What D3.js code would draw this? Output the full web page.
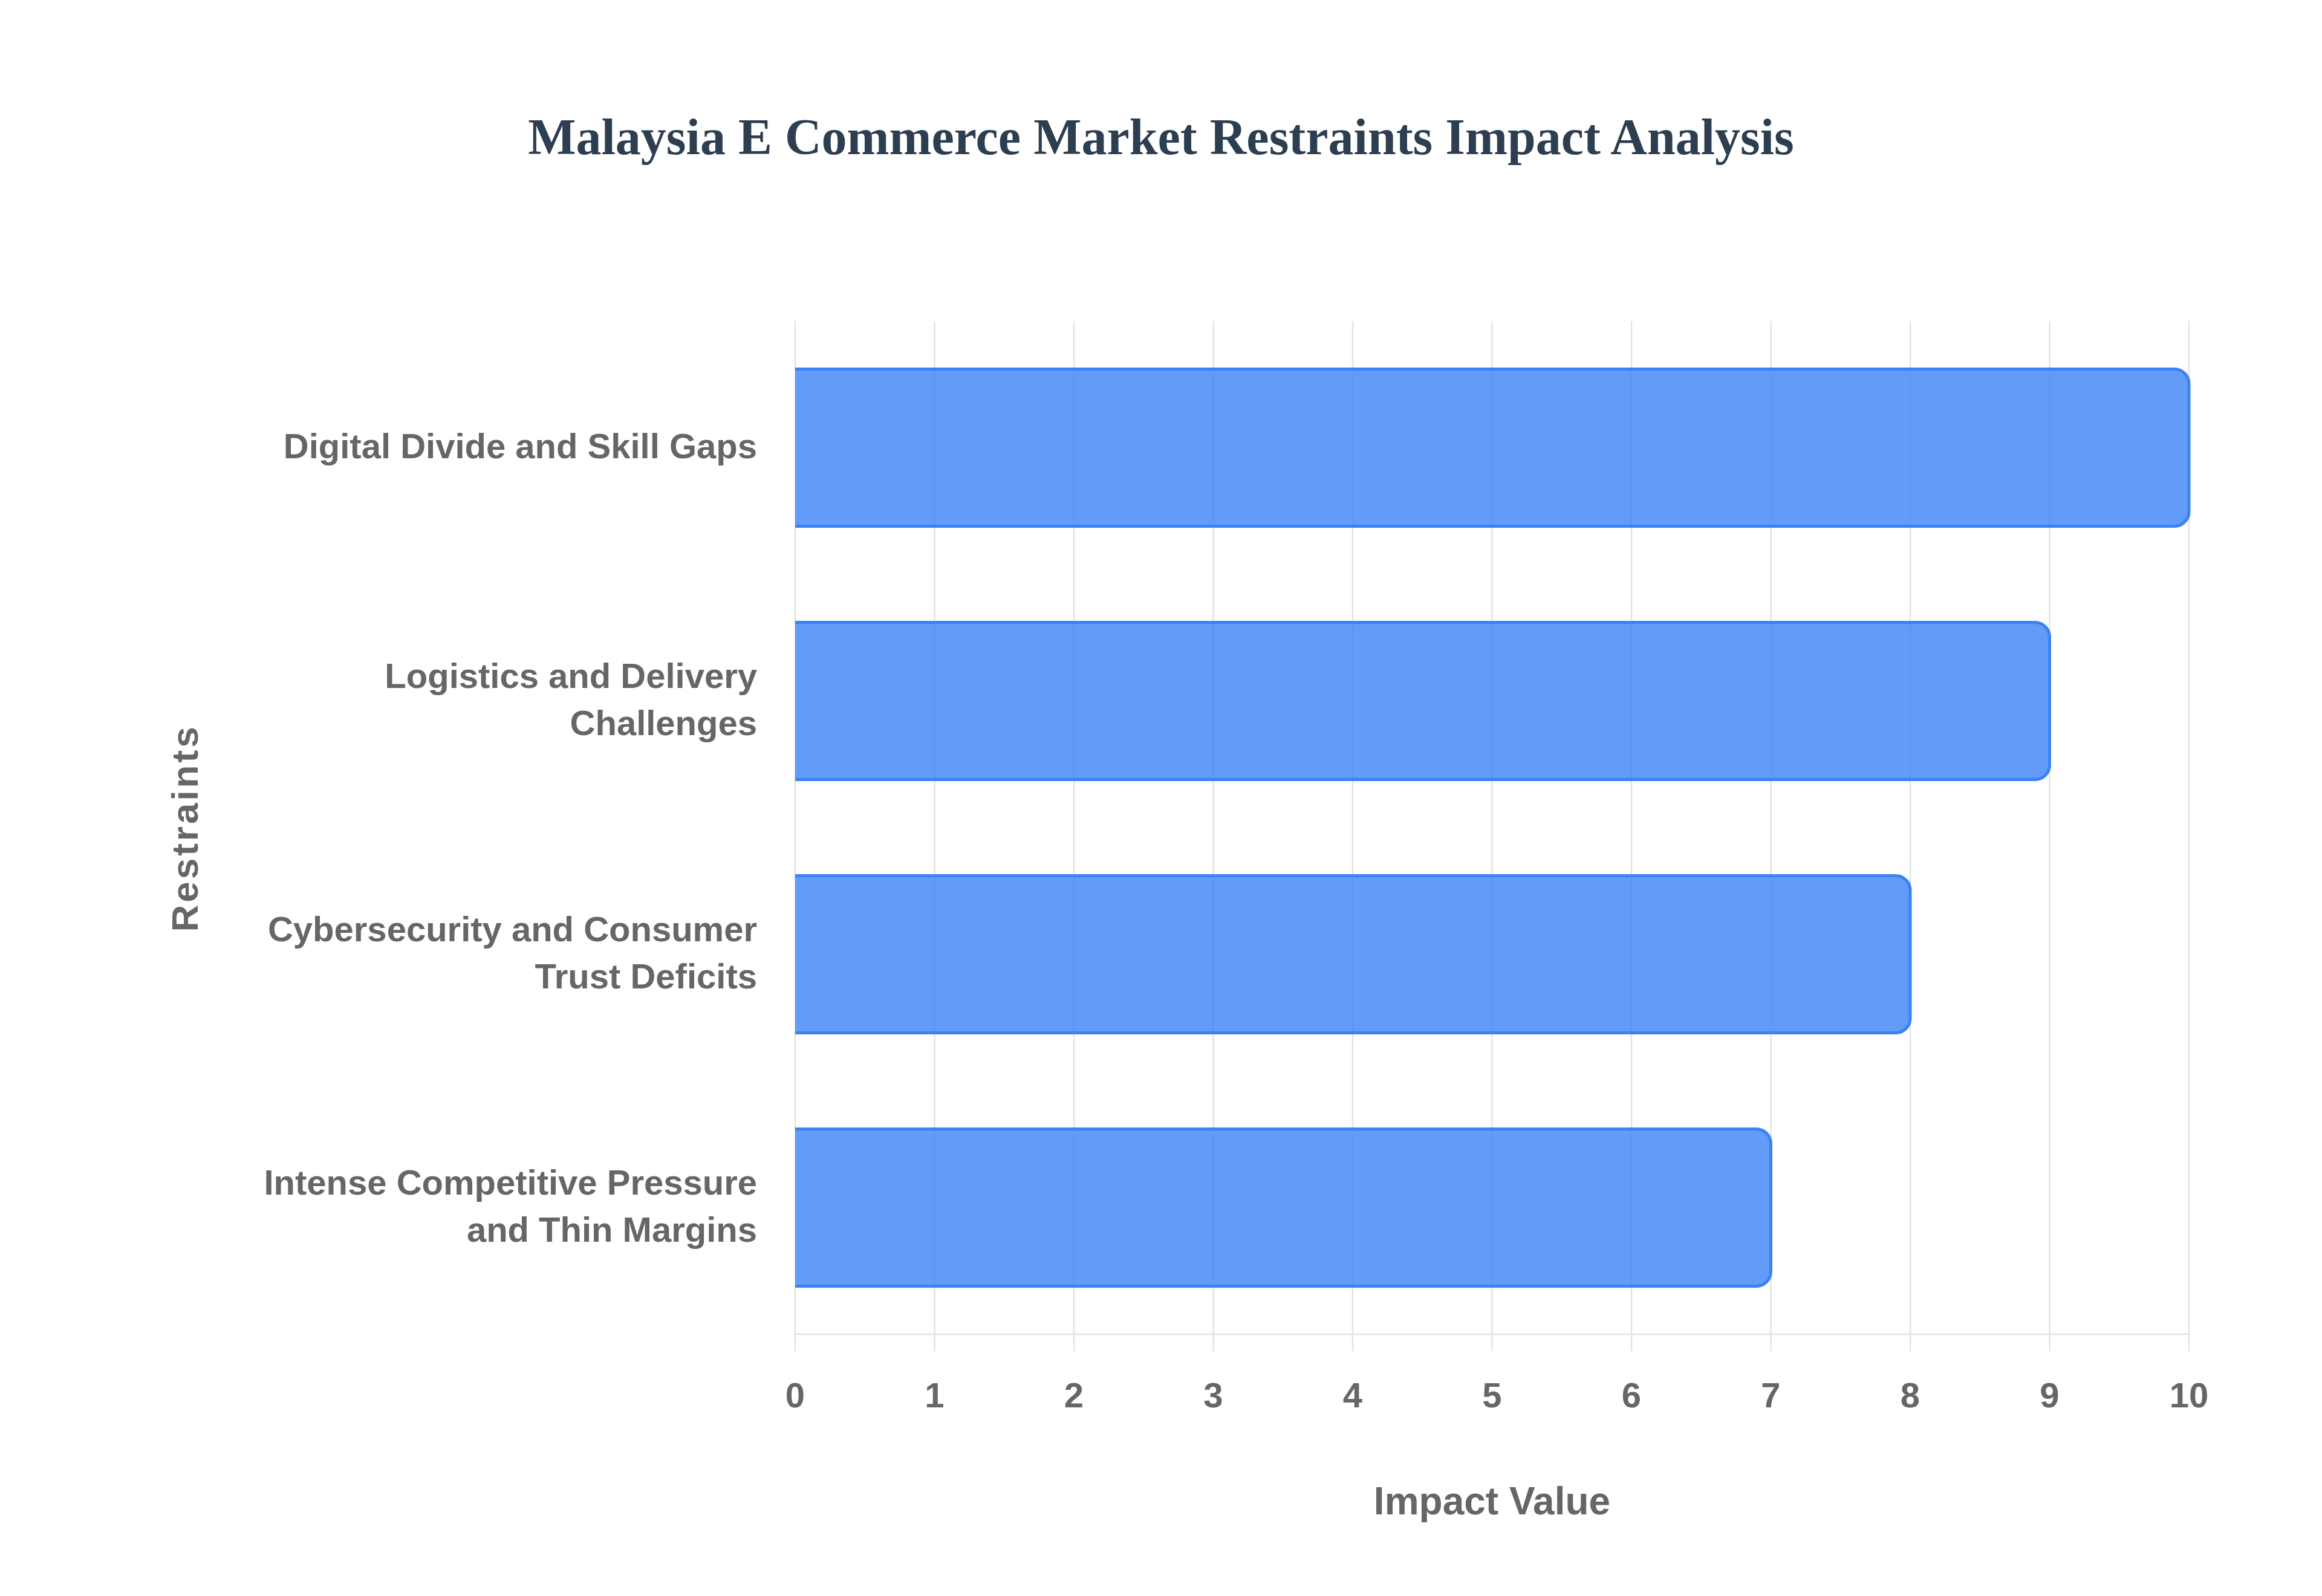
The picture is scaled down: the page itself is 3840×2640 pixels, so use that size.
<!DOCTYPE html>
<html>
<head>
<meta charset="utf-8">
<script src="https://cdn.jsdelivr.net/npm/d3@7"></script>
<style>
  html, body { margin: 0; padding: 0; background: #ffffff; }
  svg { display: block; }
</style>
</head>
<body>
<svg id="chart" width="3840" height="2640"></svg>
<script>
const chartTitle = "Malaysia E Commerce Market Restraints Impact Analysis";
const categories = [
  "Digital Divide and Skill Gaps",
  "Logistics and Delivery Challenges",
  "Cybersecurity and Consumer Trust Deficits",
  "Intense Competitive Pressure and Thin Margins"
];
const impactValues = [10, 9, 8, 7];
const xTickValues = [0, 1, 2, 3, 4, 5, 6, 7, 8, 9, 10];
const xAxisTitle = "Impact Value";
const yAxisTitle = "Restraints";

const W = 3840, H = 2640;
const margin = { left: 1315, right: W - 3620, top: 531, bottom: H - 2207 };
const svg = d3.select("#chart");

const x = d3.scaleLinear().domain([0, 10]).range([margin.left, W - margin.right]);
const y = d3.scaleBand().domain(categories).range([margin.top, H - margin.bottom])
  .paddingInner(0.38).paddingOuter(0.19);

const gridColor = "#e3e3e3";
const textColor = "#666666";
const sans = "'Liberation Sans', Arial, Helvetica, sans-serif";

// Title
svg.append("text")
  .attr("x", W / 2).attr("y", 255)
  .attr("text-anchor", "middle")
  .attr("font-family", "'Liberation Serif', 'Times New Roman', serif")
  .attr("font-weight", "bold")
  .attr("font-size", 84)
  .attr("fill", "#2c3e50")
  .text(chartTitle);

// Vertical gridlines + tick marks
const grid = svg.append("g");
grid.selectAll("line.grid")
  .data(xTickValues)
  .join("line")
  .attr("class", "grid")
  .attr("x1", d => x(d)).attr("x2", d => x(d))
  .attr("y1", margin.top).attr("y2", H - margin.bottom + 28)
  .attr("stroke", gridColor)
  .attr("stroke-width", 2.5);

// Bottom axis line
grid.append("line")
  .attr("x1", x(0)).attr("x2", x(10))
  .attr("y1", H - margin.bottom).attr("y2", H - margin.bottom)
  .attr("stroke", gridColor)
  .attr("stroke-width", 2.5);

// Tick labels
svg.append("g").selectAll("text")
  .data(xTickValues)
  .join("text")
  .attr("x", d => x(d))
  .attr("y", 2328)
  .attr("text-anchor", "middle")
  .attr("font-family", sans)
  .attr("font-weight", "bold")
  .attr("font-size", 58)
  .attr("fill", textColor)
  .text(d => d);

// Bars
const r = 24;
function barFill(x0, x1, y0, h) {
  const rr = Math.min(r, (x1 - x0), h / 2);
  return `M${x0},${y0} L${x1 - rr},${y0} A${rr},${rr} 0 0 1 ${x1},${y0 + rr} L${x1},${y0 + h - rr} A${rr},${rr} 0 0 1 ${x1 - rr},${y0 + h} L${x0},${y0 + h} Z`;
}
function barStroke(x0, x1, y0, h) {
  const rr = Math.min(r, (x1 - x0), h / 2);
  return `M${x0},${y0} L${x1 - rr},${y0} A${rr},${rr} 0 0 1 ${x1},${y0 + rr} L${x1},${y0 + h - rr} A${rr},${rr} 0 0 1 ${x1 - rr},${y0 + h} L${x0},${y0 + h}`;
}
const bars = svg.append("g");
const data = categories.map((c, i) => ({ cat: c, val: impactValues[i] }));
bars.selectAll("path.fill")
  .data(data)
  .join("path")
  .attr("class", "fill")
  .attr("d", d => barFill(x(0), x(d.val), y(d.cat), y.bandwidth()))
  .attr("fill", "rgba(59,130,246,0.8)");
bars.selectAll("path.border")
  .data(data)
  .join("path")
  .attr("class", "border")
  .attr("d", d => barStroke(x(0), x(d.val), y(d.cat), y.bandwidth()))
  .attr("fill", "none")
  .attr("stroke", "#3b82f6")
  .attr("stroke-width", 5);

// Category labels with wrapping
function wrapLabel(s, maxChars) {
  const words = s.split(" ");
  const lines = [];
  let cur = "";
  words.forEach(w => {
    const t = cur ? cur + " " + w : w;
    if (t.length > maxChars && cur) { lines.push(cur); cur = w; }
    else cur = t;
  });
  if (cur) lines.push(cur);
  return lines;
}
const lineH = 78;
const labels = svg.append("g");
data.forEach(d => {
  const lines = wrapLabel(d.cat, 30);
  const cy = y(d.cat) + y.bandwidth() / 2;
  const t = labels.append("text")
    .attr("text-anchor", "end")
    .attr("font-family", sans)
    .attr("font-weight", "bold")
    .attr("font-size", 58)
    .attr("fill", textColor);
  lines.forEach((ln, i) => {
    t.append("tspan")
      .attr("x", 1252)
      .attr("y", cy + 17 + (i - (lines.length - 1) / 2) * lineH)
      .text(ln);
  });
});

// Axis titles
svg.append("text")
  .attr("x", (x(0) + x(10)) / 2)
  .attr("y", 2505)
  .attr("text-anchor", "middle")
  .attr("font-family", sans)
  .attr("font-weight", "bold")
  .attr("font-size", 64)
  .attr("fill", textColor)
  .text(xAxisTitle);

svg.append("text")
  .attr("transform", "translate(327,1370) rotate(-90)")
  .attr("text-anchor", "middle")
  .attr("font-family", sans)
  .attr("font-weight", "bold")
  .attr("font-size", 62)
  .attr("letter-spacing", 4)
  .attr("fill", textColor)
  .text(yAxisTitle);
</script>
</body>
</html>
